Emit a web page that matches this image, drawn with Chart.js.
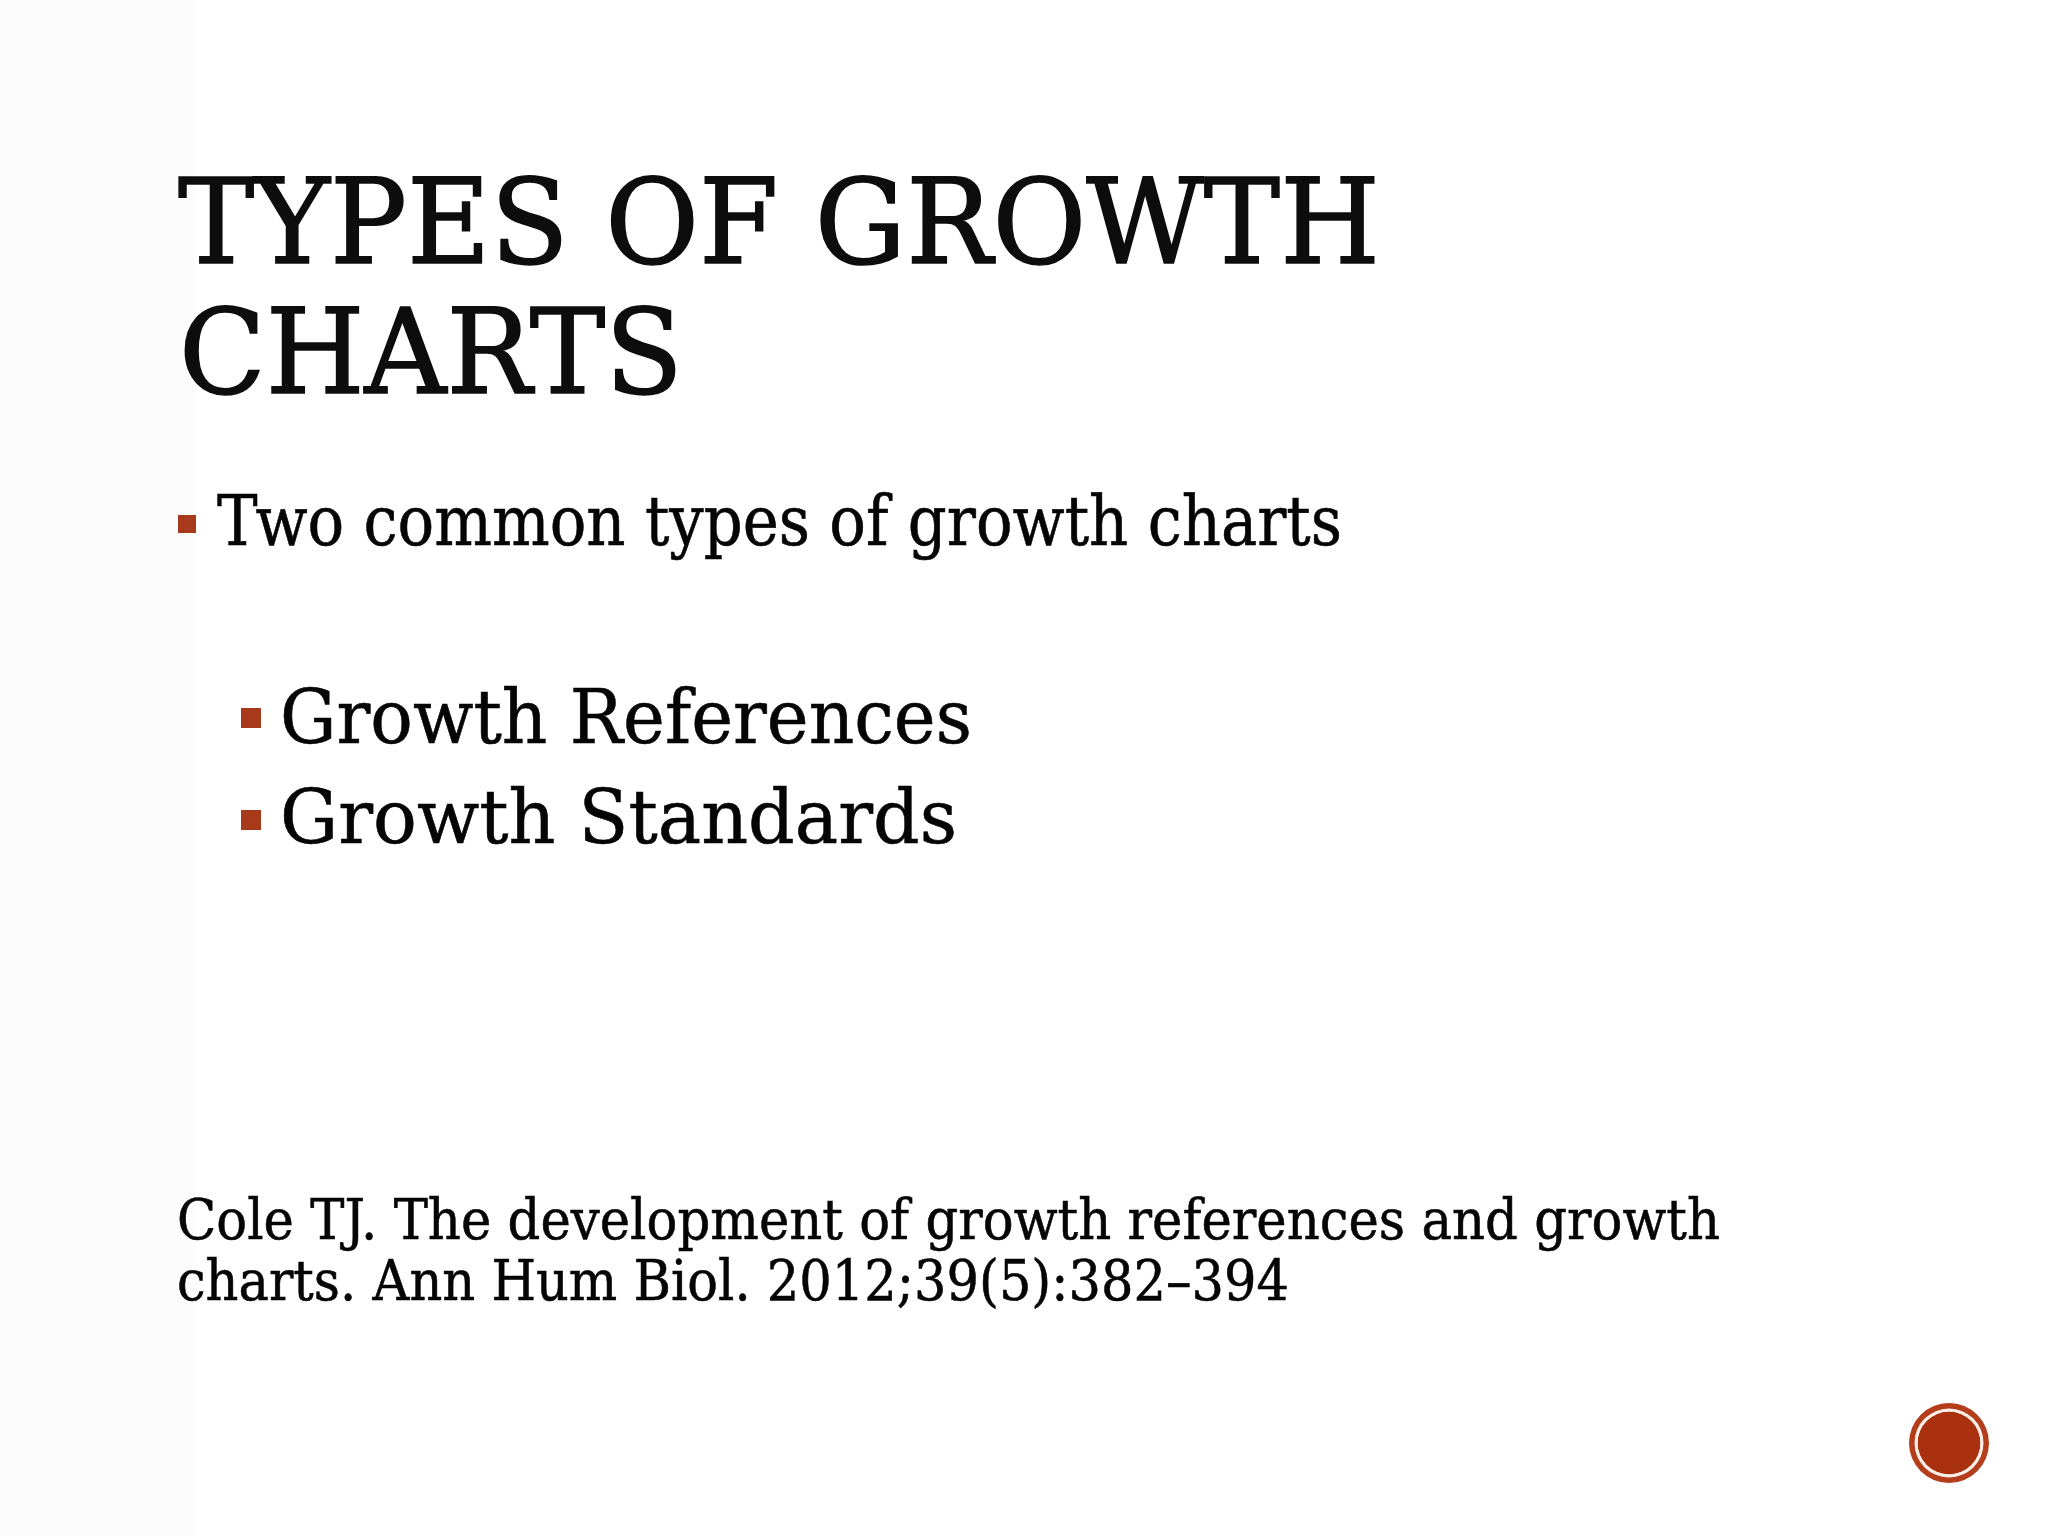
<!DOCTYPE html>
<html>
<head>
<meta charset="utf-8">
<title>Types of Growth Charts</title>
<script src="https://cdn.jsdelivr.net/npm/chart.js@4.4.1/dist/chart.umd.min.js"></script>
<style>
  html, body { margin: 0; padding: 0; }
  body {
    width: 2048px;
    height: 1536px;
    position: relative;
    overflow: hidden;
    background: #ffffff;
    font-family: "DejaVu Serif", "Liberation Serif", serif;
    color: #050505;
  }
  .strip { position: absolute; left: 0; top: 0; width: 196px; height: 1536px; background: #fcfcfc; }
  .fit { position: absolute; white-space: nowrap; line-height: 1; transform-origin: 0 0; -webkit-text-stroke: 0.6px #050505; }
  .title { color: #0d0d0d; -webkit-text-stroke: 1.6px #0d0d0d; }
  .bullet { position: absolute; background: #a63a1a; }
  #badge { position: absolute; left: 1909px; top: 1403px; width: 80px; height: 80px; }
</style>
</head>
<body>
<div class="strip"></div>

<!-- l / r = ink extent, b = baseline, cap = cap height -->
<div class="fit title" data-l="178" data-r="1380" data-b="263" data-cap="86">TYPES OF GROWTH</div>
<div class="fit title" data-l="179" data-r="683" data-b="393" data-cap="86">CHARTS</div>

<div class="bullet" style="left:178px;top:515px;width:18px;height:18px;"></div>
<div class="fit" data-l="217" data-r="1342" data-b="545" data-cap="50">Two common types of growth charts</div>

<div class="bullet" style="left:241px;top:708px;width:20px;height:20px;"></div>
<div class="fit" data-l="280" data-r="972" data-b="743" data-cap="55">Growth References</div>
<div class="bullet" style="left:241px;top:810px;width:20px;height:20px;"></div>
<div class="fit" data-l="280" data-r="957" data-b="843" data-cap="55">Growth Standards</div>

<div class="fit" data-l="177" data-r="1720" data-b="1239" data-cap="41">Cole TJ. The development of growth references and growth</div>
<div class="fit" data-l="177" data-r="1289" data-b="1300" data-cap="41">charts. Ann Hum Biol. 2012;39(5):382–394</div>

<div id="badge"><canvas id="badgeChart"></canvas></div>

<script>
// Slide badge: three concentric rings, one slice each
const badgeLabels = ["Outer band", "Ring", "Core"];
const badgeValues = [1, 1, 1];
const badgeColors = ["#b43e1b", "#fbeee8", "#aa310f"];
const badgeWeights = [5.5, 3, 31.5];

// Fit each text line to the measured ink box of the slide
const CAP_RATIO = 0.729; // DejaVu Serif cap height / em
document.querySelectorAll(".fit").forEach(function (el) {
  const l = +el.dataset.l, r = +el.dataset.r, b = +el.dataset.b, cap = +el.dataset.cap;
  el.style.fontSize = (cap / CAP_RATIO).toFixed(2) + "px";

  const marker = document.createElement("span");
  marker.style.display = "inline-block";
  marker.style.width = "0";
  marker.style.height = "0";
  el.appendChild(marker);
  const baseline = marker.offsetTop;
  el.removeChild(marker);

  const w = el.getBoundingClientRect().width;
  el.style.transform = "scaleX(" + ((r - l) / w).toFixed(4) + ")";
  el.style.left = l + "px";
  el.style.top = (b - baseline) + "px";
});

const badgeCtx = document.getElementById("badgeChart").getContext("2d");
const badgeChart = new Chart(badgeCtx, {
  type: "pie",
  data: {
    labels: [badgeLabels[0]],
    datasets: badgeLabels.map(function (label, i) {
      return {
        label: label,
        data: [badgeValues[i]],
        backgroundColor: badgeColors[i],
        borderWidth: 0,
        weight: badgeWeights[i],
        hoverOffset: 0,
      };
    }),
  },
  options: {
    responsive: true,
    maintainAspectRatio: false,
    animation: false,
    events: [],
    layout: { padding: 0 },
    plugins: {
      legend: { display: false },
      tooltip: { enabled: false },
    },
  },
});
</script>
</body>
</html>
